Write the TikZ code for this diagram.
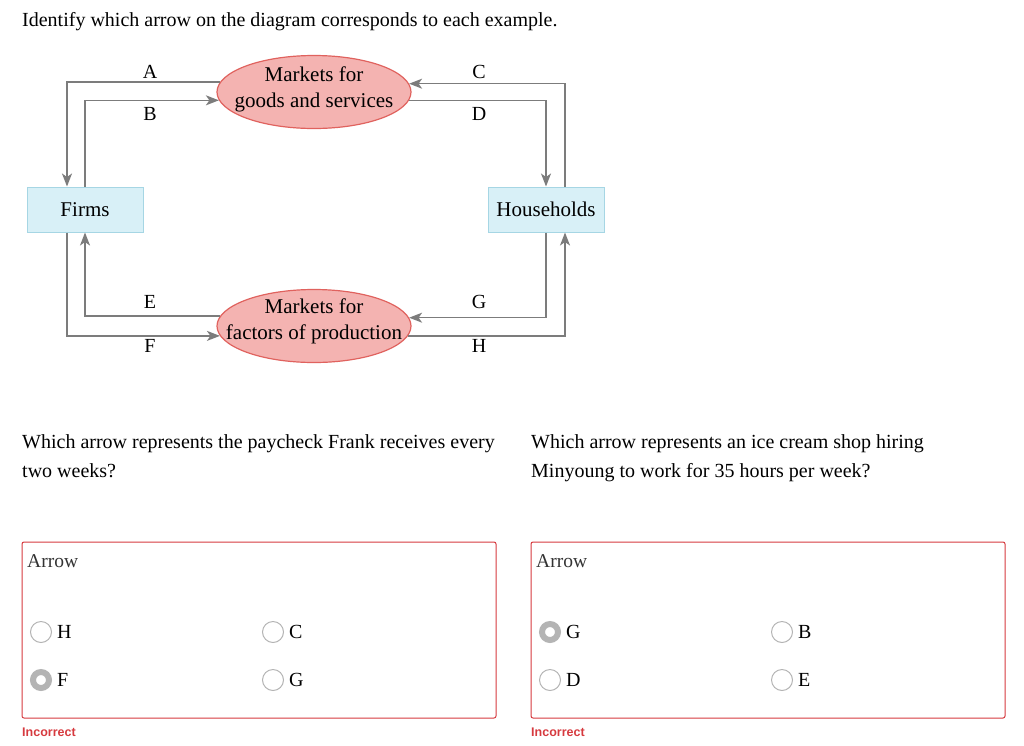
\documentclass[tikz,border=0pt]{standalone}
\usepackage{fontspec}
\setmainfont{Liberation Serif}
\newfontfamily\uisans{Liberation Sans}
\usetikzlibrary{shapes.geometric,arrows.meta}
\definecolor{flowgray}{HTML}{7C7C7C}
\definecolor{ellfill}{HTML}{F4B3B1}
\definecolor{elldraw}{HTML}{E0625E}
\definecolor{boxfill}{HTML}{D8F0F7}
\definecolor{boxdraw}{HTML}{A6D6E4}
\definecolor{errred}{HTML}{D63A3F}
\definecolor{radiogray}{HTML}{B4B4B4}
\definecolor{labeltxt}{HTML}{333333}
\begin{document}
\begin{tikzpicture}[x=1pt,y=-1pt,
  txt/.style={font=\fontsize{20}{24}\selectfont, inner sep=0pt},
  market/.style={ellipse, draw=elldraw, fill=ellfill, line width=1.2pt,
    minimum width=194pt, minimum height=73pt, inner sep=0pt},
  markettext/.style={align=center, inner sep=0pt,
    font=\fontsize{21}{26}\selectfont},
  agent/.style={rectangle, draw=boxdraw, fill=boxfill, line width=1pt,
    minimum width=116pt, minimum height=45pt, inner sep=0pt,
    font=\fontsize{21}{24}\selectfont},
  flow/.style={draw=flowgray, line width=1.5pt,
    -{Stealth[length=13pt,width=10pt,inset=3.5pt]}},
  letter/.style={font=\fontsize{20}{24}\selectfont, inner sep=0pt},
  answerbox/.style={draw=errred, line width=1pt, rounded corners=2pt},
  radioempty/.style={circle, draw=radiogray, fill=white, line width=1pt,
    minimum size=21pt, inner sep=0pt},
  radiochosen/.style={circle, draw=radiogray, fill=white, line width=6pt,
    minimum size=16pt, inner sep=0pt},
  optlabel/.style={font=\fontsize{20}{24}\selectfont, inner sep=0pt, anchor=west},
  wrongnote/.style={font=\uisans\bfseries\fontsize{12.5}{15}\selectfont,
    text=errred, inner sep=0pt, anchor=base west}
]
\useasboundingbox (0,0) rectangle (1024,745);

% title
\node[txt, anchor=base west] (title) at (22,26)
  {Identify which arrow on the diagram corresponds to each example.};

% diagram nodes
\node[market] (goods) at (314,92) {};
\node[markettext] (goodstext) at (314,89) {Markets for\\goods and services};
\node[market] (factors) at (314,326) {};
\node[markettext] (factorstext) at (314,321) {Markets for\\factors of production};
\node[agent] (firms) at (85,209.5) {Firms};
\node[agent] (house) at (546,209.5) {Households};

% connectors
\draw[flow] (goods.174.5) -| ([xshift=-18pt]firms.north);
\draw[flow] (firms.north) |- (goods.185.5);
\draw[flow] ([xshift=19pt]house.north) |- (goods.5.5);
\draw[flow] (goods.-5.5) -| (house.north);
\draw[flow] (factors.174.5) -| (firms.south);
\draw[flow] ([xshift=-18pt]firms.south) |- (factors.186);
\draw[flow] (house.south) |- (factors.5.5);
\draw[flow] (factors.-6) -| ([xshift=19pt]house.south);

% arrow letters
\node[letter] (la) at (150,72) {A};
\node[letter] (lb) at (150,114) {B};
\node[letter] (lc) at (479,72) {C};
\node[letter] (ld) at (479,114) {D};
\node[letter] (le) at (150,302) {E};
\node[letter] (lf) at (150,346) {F};
\node[letter] (lg) at (479,302) {G};
\node[letter] (lh) at (479,346) {H};

% questions
\node[txt, anchor=base west] (q1a) at (22,448)
  {Which arrow represents the paycheck Frank receives every};
\node[txt, anchor=base west] (q1b) at (22,477) {two weeks?};
\node[txt, anchor=base west] (q2a) at (531,448)
  {Which arrow represents an ice cream shop hiring};
\node[txt, anchor=base west] (q2b) at (531,477)
  {Minyoung to work for 35 hours per week?};

% answer boxes
\draw[answerbox] (22,542) rectangle (496,718);
\draw[answerbox] (531,542) rectangle (1005,718);
\node[txt, text=labeltxt, anchor=base west, font=\fontsize{19.5}{24}\selectfont] (arr1) at (27,567) {Arrow};
\node[txt, text=labeltxt, anchor=base west, font=\fontsize{19.5}{24}\selectfont] (arr2) at (536,567) {Arrow};

% left options
\node[radioempty] (r1h) at (41,632) {};
\node[optlabel] (t1h) at (57,632) {H};
\node[radiochosen] (r1f) at (41,680) {};
\node[optlabel] (t1f) at (57,680) {F};
\node[radioempty] (r1c) at (273,632) {};
\node[optlabel] (t1c) at (289,632) {C};
\node[radioempty] (r1g) at (273,680) {};
\node[optlabel] (t1g) at (289,680) {G};

% right options
\node[radiochosen] (r2g) at (550,632) {};
\node[optlabel] (t2g) at (566,632) {G};
\node[radioempty] (r2d) at (550,680) {};
\node[optlabel] (t2d) at (566,680) {D};
\node[radioempty] (r2b) at (782,632) {};
\node[optlabel] (t2b) at (798,632) {B};
\node[radioempty] (r2e) at (782,680) {};
\node[optlabel] (t2e) at (798,680) {E};

% feedback
\node[wrongnote] (w1) at (22,736) {Incorrect};
\node[wrongnote] (w2) at (531,736) {Incorrect};
\end{tikzpicture}
\end{document}
